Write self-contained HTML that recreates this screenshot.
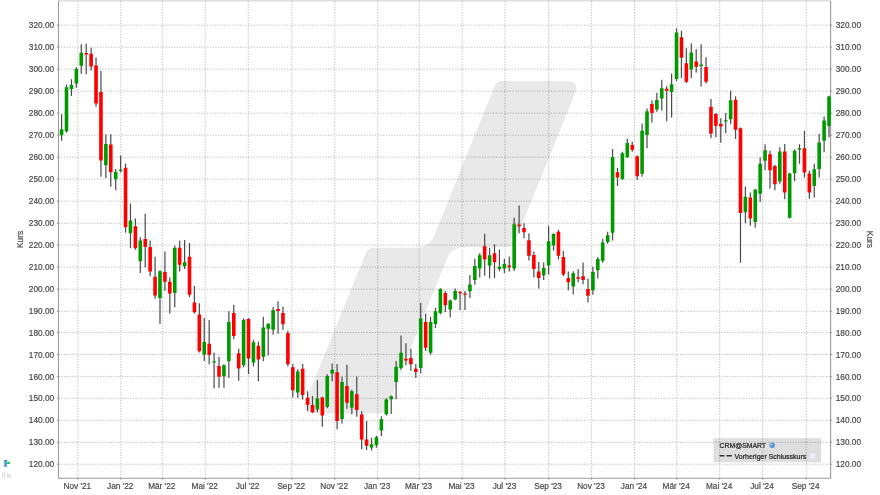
<!DOCTYPE html>
<html><head><meta charset="utf-8"><title>Chart</title>
<style>
html,body{margin:0;padding:0;background:#fff;}
body{width:880px;height:495px;overflow:hidden;}
svg{display:block;will-change:transform;}
text{font-family:"Liberation Sans",sans-serif;}
</style></head><body>
<svg width="880" height="495" viewBox="0 0 880 495">
<rect x="0" y="0" width="880" height="495" fill="#ffffff"/>
<rect x="58" y="0" width="773.1" height="1.5" fill="#dedede"/>
<g stroke="#bcbcbc" stroke-width="1" stroke-dasharray="1.25 1.5" fill="none">
<path d="M58.5 464.2H830.6"/><path d="M58.5 442.25H830.6"/><path d="M58.5 420.3H830.6"/><path d="M58.5 398.35H830.6"/><path d="M58.5 376.4H830.6"/><path d="M58.5 354.45H830.6"/><path d="M58.5 332.55H830.6"/><path d="M58.5 311.25H830.6"/><path d="M58.5 289.2H830.6"/><path d="M58.5 267.1H830.6"/><path d="M58.5 245.05H830.6"/><path d="M58.5 223.25H830.6"/><path d="M58.5 201.2H830.6"/><path d="M58.5 179.15H830.6"/><path d="M58.5 157.2H830.6"/><path d="M58.5 135.15H830.6"/><path d="M58.5 113.2H830.6"/><path d="M58.5 91.15H830.6"/><path d="M58.5 69.2H830.6"/><path d="M58.5 47.15H830.6"/><path d="M58.5 25.2H830.6"/>
<path d="M77.9 1V478.2"/><path d="M120.83 1V478.2"/><path d="M162.35 1V478.2"/><path d="M205.27 1V478.2"/><path d="M248.2 1V478.2"/><path d="M291.83 1V478.2"/><path d="M334.76 1V478.2"/><path d="M377.68 1V478.2"/><path d="M419.2 1V478.2"/><path d="M462.13 1V478.2"/><path d="M505.06 1V478.2"/><path d="M548.69 1V478.2"/><path d="M591.62 1V478.2"/><path d="M634.54 1V478.2"/><path d="M676.77 1V478.2"/><path d="M719.69 1V478.2"/><path d="M762.62 1V478.2"/><path d="M806.25 1V478.2"/>
</g>
<path d="M494.58 86A8 8 0 0 1 501.99 81L569.07 81A7.5 7.5 0 0 1 576.02 91.32L514.83 242.21A8 8 0 0 1 507.42 247.2L463.82 247.2A18 18 0 0 0 447.14 258.44L386.32 408.5A8 8 0 0 1 378.91 413.5L311.74 413.5A7.5 7.5 0 0 1 304.8 403.18L365.96 252.69A8 8 0 0 1 373.38 247.7L417.07 247.7A18 18 0 0 0 433.76 236.45Z" fill="#000" fill-opacity="0.088"/>
<rect x="713.5" y="438.1" width="107.5" height="24.2" fill="#000" fill-opacity="0.13"/>
<g stroke="#9a9a9a" stroke-width="1.1" fill="none">
<path d="M58.5 1V478.2H830.6V1"/>
</g>
<g stroke="#9a9a9a" stroke-width="1" fill="none">
<path d="M56.9 464.2h1.6M830.6 464.2h1.6"/><path d="M56.9 442.25h1.6M830.6 442.25h1.6"/><path d="M56.9 420.3h1.6M830.6 420.3h1.6"/><path d="M56.9 398.35h1.6M830.6 398.35h1.6"/><path d="M56.9 376.4h1.6M830.6 376.4h1.6"/><path d="M56.9 354.45h1.6M830.6 354.45h1.6"/><path d="M56.9 332.55h1.6M830.6 332.55h1.6"/><path d="M56.9 311.25h1.6M830.6 311.25h1.6"/><path d="M56.9 289.2h1.6M830.6 289.2h1.6"/><path d="M56.9 267.1h1.6M830.6 267.1h1.6"/><path d="M56.9 245.05h1.6M830.6 245.05h1.6"/><path d="M56.9 223.25h1.6M830.6 223.25h1.6"/><path d="M56.9 201.2h1.6M830.6 201.2h1.6"/><path d="M56.9 179.15h1.6M830.6 179.15h1.6"/><path d="M56.9 157.2h1.6M830.6 157.2h1.6"/><path d="M56.9 135.15h1.6M830.6 135.15h1.6"/><path d="M56.9 113.2h1.6M830.6 113.2h1.6"/><path d="M56.9 91.15h1.6M830.6 91.15h1.6"/><path d="M56.9 69.2h1.6M830.6 69.2h1.6"/><path d="M56.9 47.15h1.6M830.6 47.15h1.6"/><path d="M56.9 25.2h1.6M830.6 25.2h1.6"/><path d="M77.9 478.2v1.6"/><path d="M120.83 478.2v1.6"/><path d="M162.35 478.2v1.6"/><path d="M205.27 478.2v1.6"/><path d="M248.2 478.2v1.6"/><path d="M291.83 478.2v1.6"/><path d="M334.76 478.2v1.6"/><path d="M377.68 478.2v1.6"/><path d="M419.2 478.2v1.6"/><path d="M462.13 478.2v1.6"/><path d="M505.06 478.2v1.6"/><path d="M548.69 478.2v1.6"/><path d="M591.62 478.2v1.6"/><path d="M634.54 478.2v1.6"/><path d="M676.77 478.2v1.6"/><path d="M719.69 478.2v1.6"/><path d="M762.62 478.2v1.6"/><path d="M806.25 478.2v1.6"/>
</g>
<path d="M61.6 114.2V140.87M66.52 84.68V132.72M71.44 79.2V95.9M76.36 67.34V87.76M81.28 44.3V73.71M86.2 43.42V74.15M91.12 47.81V70.42M96.04 57.47V106.71M100.96 71.08V176.73M105.87 134.27V178.05M110.79 134.27V186.87M115.71 169.03V190.17M120.63 155.39V172.33M125.55 163.53V232.7M130.47 203.4V248.31M135.39 218.62V249.63M140.31 237.32V272.93M145.23 213.77V267.22M150.15 240.4V276.23M155.07 256.66V298.68M159.99 270.29V323.7M164.91 251.39V290.74M169.83 277.55V313.43M174.75 245.45V307.06M179.67 240.84V271.39M184.59 239.96V268.98M189.5 243.03V296.92M194.42 286.12V313.43M199.34 303.31V352.42M204.26 318.02V360.88M209.18 319.99V364.33M214.1 352.42V388.25M219.02 356.78V387.81M223.94 364.33V387.81M228.86 311.25V378.12M233.78 304.86V339.25M238.7 348.68V380.7M243.62 318.46V367.35M248.54 318.24V374.03M253.46 339.69V366.48M258.38 341.44V381.13M263.3 316.71V361.31M268.21 323.05V355.48M273.13 307.06V334.64M278.05 301.33V333.76M282.97 306.4V329.82M287.89 330.7V366.48M292.81 363.9V397.47M297.73 369.29V397.69M302.65 364.11V399.45M307.57 391.33V410.86M312.49 395.94V413.06M317.41 380.06V412.18M322.33 396.81V426.67M327.25 374.25V408.23M332.17 363.46V381.13M337.09 363.9V429.3M342.01 376.83V423.59M346.93 364.76V408.67M351.84 389.57V414.37M356.76 376.4V416.79M361.68 411.3V449.27M366.6 420.96V449.93M371.52 437.64V450.59M376.44 435.66V447.74M381.36 416.35V436.32M386.28 398.35V415.47M391.2 395.5V413.93M396.12 361.09V399.23M401.04 335.51V369.72M405.96 343.2V365.19M410.88 348.68V370.8M415.8 363.9V377.91M420.72 302.65V373.6M425.64 313.65V350.88M430.56 316.71V355.05M435.47 307.72V328.07M440.39 288.32V314.31M445.31 290.96V312.12M450.23 299.56V317.59M455.15 288.54V300.22M460.07 291.18V309.93M464.99 290.96V309.93M469.91 274.91V298.02M474.83 258.64V284.8M479.75 253.15V277.55M484.67 233.8V275.79M489.59 247.65V278.43M494.51 244.13V277.99M499.43 249.41V271.17M504.35 258.64V273.37M509.27 256.44V271.61M514.18 217.74V270.95M519.1 205.39V233.14M524.02 223.25V238.2M528.94 233.14V260.4M533.86 251.61V277.55M538.78 261.94V288.54M543.7 262.6V279.97M548.62 225.67V274.47M553.54 233.14V250.51M558.46 229.63V259.52M563.38 250.95V276.23M568.3 271.61V290.3M573.22 271.17V294.49M578.14 268.98V282.17M583.06 262.6V284.36M587.98 278.43V302.43M592.9 266.78V294.71M597.81 257.1V278.43M602.73 238.64V262.82M607.65 231.82V243.69M612.57 149.01V240.4M617.49 167.71V185.99M622.41 151.87V180.03M627.33 138.67V157.81M632.25 141.75V151.87M637.17 155.39V180.03M642.09 123.46V176.73M647.01 108.47V148.13M651.93 100.53V122.58M656.85 92.81V111.78M661.77 79.86V110.45M666.69 86.22V121.26M671.61 73.49V117.51M676.53 28.27V80.95M681.44 30.69V78.1M686.36 48.25V82.93M691.28 43.2V78.1M696.2 49.13V72.61M701.12 44.3V86.66M706.04 57.25V83.59M710.96 98.99V138.23M715.88 113.1V137.13M720.8 118.17V142.85M725.72 112.88V133.17M730.64 90.83V124.35M735.56 96.34V138.89M740.48 127.43V262.82M745.4 186.43V223.25M750.32 192.6V225.67M755.24 188.85V227.87M760.15 157.59V202.08M765.07 144.17V170.13M769.99 150.77V188.41M774.91 164.85V190.17M779.83 147.25V183.78M784.75 143.95V199.22M789.67 172.77V218.62M794.59 149.45V181.35M799.51 144.17V163.75M804.43 130.74V177.39M809.35 170.79V198.77M814.27 163.75V197.45M819.19 134.05V177.39M824.11 116.41V152.31M829.03 95.68V137.35" stroke="#4a4a4a" stroke-width="1.2" fill="none"/>
<path d="M59.8 129.2h3.6V135.15h-3.6ZM64.72 87.32h3.6V131.18h-3.6ZM69.64 85.12h3.6V89.07h-3.6ZM74.56 69.1h3.6V83.59h-3.6ZM79.48 52.86h3.6V65.81h-3.6ZM104.07 143.95h3.6V165.29h-3.6ZM113.91 172.11h3.6V179.37h-3.6ZM118.83 169.7h3.6V171h-3.6ZM128.67 220.38h3.6V233.14h-3.6ZM138.51 240.4h3.6V261.28h-3.6ZM158.19 271.17h3.6V298.02h-3.6ZM172.95 247.87h3.6V292.95h-3.6ZM182.78 262.16h3.6V266.34h-3.6ZM202.46 341.88h3.6V354.83h-3.6ZM212.3 361.3h3.6V362.6h-3.6ZM222.14 365.19h3.6V376.18h-3.6ZM227.06 321.96h3.6V361.31h-3.6ZM241.82 319.99h3.6V365.19h-3.6ZM251.66 342.32h3.6V362.6h-3.6ZM261.5 327.42h3.6V356.78h-3.6ZM266.41 323.92h3.6V328.73h-3.6ZM271.33 310.37h3.6V329.82h-3.6ZM295.93 371.45h3.6V392.42h-3.6ZM315.61 398.13h3.6V409.54h-3.6ZM325.45 375.97h3.6V406.69h-3.6ZM330.37 369.72h3.6V373.6h-3.6ZM340.21 381.99h3.6V418.98h-3.6ZM350.04 391.33h3.6V407.79h-3.6ZM369.72 444.23h3.6V447.52h-3.6ZM374.64 437.2h3.6V445.32h-3.6ZM379.56 419.2h3.6V430.62h-3.6ZM384.48 399.45h3.6V414.37h-3.6ZM389.4 396.37h3.6V399.23h-3.6ZM394.32 366.7h3.6V381.99h-3.6ZM399.24 352.85h3.6V367.99h-3.6ZM418.92 318.46h3.6V367.99h-3.6ZM428.76 321.96h3.6V352.85h-3.6ZM433.67 311.25h3.6V323.92h-3.6ZM438.59 288.98h3.6V313h-3.6ZM448.43 300.45h3.6V309.49h-3.6ZM453.35 290.96h3.6V299.56h-3.6ZM468.11 284.58h3.6V291.18h-3.6ZM473.03 266.12h3.6V279.97h-3.6ZM477.95 255.35h3.6V268.54h-3.6ZM487.79 255.35h3.6V265.46h-3.6ZM497.63 266.78h3.6V268.98h-3.6ZM502.55 263.92h3.6V268.54h-3.6ZM512.38 224.13h3.6V268.54h-3.6ZM541.9 268.1h3.6V275.35h-3.6ZM546.82 241.28h3.6V265.46h-3.6ZM551.74 234.02h3.6V245.45h-3.6ZM571.42 273.15h3.6V286.56h-3.6ZM591.1 272.05h3.6V290.3h-3.6ZM596.01 259.08h3.6V270.29h-3.6ZM600.93 242.38h3.6V260.84h-3.6ZM605.85 235.34h3.6V241.94h-3.6ZM610.77 156.93h3.6V232.7h-3.6ZM620.61 153.19h3.6V178.93h-3.6ZM625.53 143.07h3.6V157.37h-3.6ZM640.29 130.74h3.6V173.65h-3.6ZM645.21 111.34h3.6V134.93h-3.6ZM655.05 100.09h3.6V109.57h-3.6ZM659.97 88.2h3.6V98.55h-3.6ZM669.81 84.25h3.6V91.93h-3.6ZM674.73 32.44h3.6V78.98h-3.6ZM689.48 52.42h3.6V69.54h-3.6ZM699.32 64.61h3.6V65.91h-3.6ZM723.92 120.16h3.6V121.48h-3.6ZM728.84 100.31h3.6V119.27h-3.6ZM743.6 196.79h3.6V212.22h-3.6ZM753.44 189.73h3.6V221.93h-3.6ZM758.35 163.75h3.6V193.7h-3.6ZM763.27 150.33h3.6V160.67h-3.6ZM778.03 151.43h3.6V181.58h-3.6ZM787.87 173.43h3.6V217.74h-3.6ZM792.79 150.77h3.6V173.21h-3.6ZM797.71 148.35h3.6V149.67h-3.6ZM812.47 169.25h3.6V185.99h-3.6ZM817.39 142.41h3.6V169.03h-3.6ZM822.31 120.38h3.6V140.65h-3.6ZM827.23 96.56h3.6V126.11h-3.6Z" fill="#009a00"/>
<path d="M84.4 53.09h3.6V54.38h-3.6ZM89.32 53.73h3.6V66.47h-3.6ZM94.24 65.59h3.6V103.62h-3.6ZM99.16 91.93h3.6V160.45h-3.6ZM108.99 144.61h3.6V172.33h-3.6ZM123.75 167.71h3.6V227.21h-3.6ZM133.59 226.33h3.6V248.31h-3.6ZM143.43 239.08h3.6V246.99h-3.6ZM148.35 246.99h3.6V271.39h-3.6ZM153.27 276.67h3.6V295.59h-3.6ZM163.11 272.05h3.6V281.73h-3.6ZM168.03 281.73h3.6V293.39h-3.6ZM177.87 247.87h3.6V264.8h-3.6ZM187.7 256.66h3.6V294.71h-3.6ZM192.62 302.43h3.6V312.34h-3.6ZM197.54 314.53h3.6V351.32h-3.6ZM207.38 343.64h3.6V355.05h-3.6ZM217.22 366.05h3.6V376.83h-3.6ZM231.98 313h3.6V335.95h-3.6ZM236.9 353.29h3.6V368.43h-3.6ZM246.74 319.12h3.6V358.5h-3.6ZM256.58 345.83h3.6V359.58h-3.6ZM276.25 309.04h3.6V311.03h-3.6ZM281.17 313h3.6V324.36h-3.6ZM286.09 332.88h3.6V364.33h-3.6ZM291.01 367.35h3.6V390.23h-3.6ZM300.85 368.64h3.6V395.06h-3.6ZM305.77 397.69h3.6V404.72h-3.6ZM310.69 404.93h3.6V412.18h-3.6ZM320.53 397.47h3.6V415.47h-3.6ZM335.29 372.31h3.6V420.96h-3.6ZM345.13 386.08h3.6V402.74h-3.6ZM354.96 394.18h3.6V409.98h-3.6ZM359.88 414.59h3.6V439.4h-3.6ZM364.8 439.62h3.6V445.76h-3.6ZM404.16 358.72h3.6V360.44h-3.6ZM409.08 358.07h3.6V364.33h-3.6ZM414 368.64h3.6V371.88h-3.6ZM423.84 321.96h3.6V347.81h-3.6ZM443.51 292.95h3.6V305.3h-3.6ZM458.27 291.85h3.6V293.17h-3.6ZM463.19 293.39h3.6V294.71h-3.6ZM482.87 246.33h3.6V259.52h-3.6ZM492.71 253.15h3.6V262.16h-3.6ZM507.47 265.46h3.6V267.22h-3.6ZM517.3 224.57h3.6V226.33h-3.6ZM522.22 228.09h3.6V232.26h-3.6ZM527.14 240.18h3.6V255.79h-3.6ZM532.06 254.91h3.6V268.98h-3.6ZM536.98 271.61h3.6V277.99h-3.6ZM556.66 231.82h3.6V255.79h-3.6ZM561.58 257.1h3.6V274.47h-3.6ZM566.5 277.99h3.6V282.17h-3.6ZM576.34 277.33h3.6V278.65h-3.6ZM581.26 276.23h3.6V279.97h-3.6ZM586.18 288.98h3.6V295.81h-3.6ZM615.69 172.33h3.6V177.61h-3.6ZM630.45 145.05h3.6V149.67h-3.6ZM635.37 156.27h3.6V176.29h-3.6ZM650.13 104.06h3.6V112.88h-3.6ZM664.89 88.64h3.6V90.83h-3.6ZM679.64 37.27h3.6V57.69h-3.6ZM684.56 63.17h3.6V81.83h-3.6ZM694.4 61.42h3.6V66.69h-3.6ZM704.24 66.91h3.6V81.83h-3.6ZM709.16 106.71h3.6V133.83h-3.6ZM714.08 113.98h3.6V125.67h-3.6ZM719 124.12h3.6V126.55h-3.6ZM733.76 99.65h3.6V129.64h-3.6ZM738.68 128.31h3.6V212.89h-3.6ZM748.52 197.45h3.6V218.62h-3.6ZM768.19 154.29h3.6V170.13h-3.6ZM773.11 165.95h3.6V184.22h-3.6ZM782.95 151.43h3.6V192.38h-3.6ZM802.63 148.35h3.6V172.55h-3.6ZM807.55 173.43h3.6V192.38h-3.6Z" fill="#ff0000"/>
<text x="719.6" y="447.6" font-size="7" fill="#222" stroke="#222" stroke-width="0.22" textLength="46.4" lengthAdjust="spacingAndGlyphs">CRM@SMART</text>
<circle cx="772.1" cy="445.3" r="2.7" fill="#4f8fd6"/><circle cx="771.4" cy="444.6" r="1.1" fill="#c9dcf2"/>
<path d="M719.6 455.7h4.8M726.4 455.7h5.5" stroke="#333" stroke-width="1.5"/>
<text x="734.6" y="458.5" font-size="7" fill="#222" stroke="#222" stroke-width="0.22" textLength="71.6" lengthAdjust="spacingAndGlyphs">Vorheriger Schlusskurs</text>
<rect x="810.3" y="453.8" width="4.8" height="4.8" rx="1" fill="#ececfa" stroke="#f4f4fc" stroke-width="0.6"/>
<g font-size="8.9" fill="#444444" stroke="#444444" stroke-width="0.18">
<text x="54.1" y="467.3" text-anchor="end" textLength="25.3" lengthAdjust="spacingAndGlyphs">120.00</text><text x="835.7" y="467.3" textLength="25.3" lengthAdjust="spacingAndGlyphs">120.00</text>
<text x="54.1" y="445.35" text-anchor="end" textLength="25.3" lengthAdjust="spacingAndGlyphs">130.00</text><text x="835.7" y="445.35" textLength="25.3" lengthAdjust="spacingAndGlyphs">130.00</text>
<text x="54.1" y="423.4" text-anchor="end" textLength="25.3" lengthAdjust="spacingAndGlyphs">140.00</text><text x="835.7" y="423.4" textLength="25.3" lengthAdjust="spacingAndGlyphs">140.00</text>
<text x="54.1" y="401.45" text-anchor="end" textLength="25.3" lengthAdjust="spacingAndGlyphs">150.00</text><text x="835.7" y="401.45" textLength="25.3" lengthAdjust="spacingAndGlyphs">150.00</text>
<text x="54.1" y="379.5" text-anchor="end" textLength="25.3" lengthAdjust="spacingAndGlyphs">160.00</text><text x="835.7" y="379.5" textLength="25.3" lengthAdjust="spacingAndGlyphs">160.00</text>
<text x="54.1" y="357.55" text-anchor="end" textLength="25.3" lengthAdjust="spacingAndGlyphs">170.00</text><text x="835.7" y="357.55" textLength="25.3" lengthAdjust="spacingAndGlyphs">170.00</text>
<text x="54.1" y="335.6" text-anchor="end" textLength="25.3" lengthAdjust="spacingAndGlyphs">180.00</text><text x="835.7" y="335.6" textLength="25.3" lengthAdjust="spacingAndGlyphs">180.00</text>
<text x="54.1" y="313.65" text-anchor="end" textLength="25.3" lengthAdjust="spacingAndGlyphs">190.00</text><text x="835.7" y="313.65" textLength="25.3" lengthAdjust="spacingAndGlyphs">190.00</text>
<text x="54.1" y="291.7" text-anchor="end" textLength="25.3" lengthAdjust="spacingAndGlyphs">200.00</text><text x="835.7" y="291.7" textLength="25.3" lengthAdjust="spacingAndGlyphs">200.00</text>
<text x="54.1" y="269.75" text-anchor="end" textLength="25.3" lengthAdjust="spacingAndGlyphs">210.00</text><text x="835.7" y="269.75" textLength="25.3" lengthAdjust="spacingAndGlyphs">210.00</text>
<text x="54.1" y="247.8" text-anchor="end" textLength="25.3" lengthAdjust="spacingAndGlyphs">220.00</text><text x="835.7" y="247.8" textLength="25.3" lengthAdjust="spacingAndGlyphs">220.00</text>
<text x="54.1" y="225.85" text-anchor="end" textLength="25.3" lengthAdjust="spacingAndGlyphs">230.00</text><text x="835.7" y="225.85" textLength="25.3" lengthAdjust="spacingAndGlyphs">230.00</text>
<text x="54.1" y="203.9" text-anchor="end" textLength="25.3" lengthAdjust="spacingAndGlyphs">240.00</text><text x="835.7" y="203.9" textLength="25.3" lengthAdjust="spacingAndGlyphs">240.00</text>
<text x="54.1" y="181.95" text-anchor="end" textLength="25.3" lengthAdjust="spacingAndGlyphs">250.00</text><text x="835.7" y="181.95" textLength="25.3" lengthAdjust="spacingAndGlyphs">250.00</text>
<text x="54.1" y="160" text-anchor="end" textLength="25.3" lengthAdjust="spacingAndGlyphs">260.00</text><text x="835.7" y="160" textLength="25.3" lengthAdjust="spacingAndGlyphs">260.00</text>
<text x="54.1" y="138.05" text-anchor="end" textLength="25.3" lengthAdjust="spacingAndGlyphs">270.00</text><text x="835.7" y="138.05" textLength="25.3" lengthAdjust="spacingAndGlyphs">270.00</text>
<text x="54.1" y="116.1" text-anchor="end" textLength="25.3" lengthAdjust="spacingAndGlyphs">280.00</text><text x="835.7" y="116.1" textLength="25.3" lengthAdjust="spacingAndGlyphs">280.00</text>
<text x="54.1" y="94.15" text-anchor="end" textLength="25.3" lengthAdjust="spacingAndGlyphs">290.00</text><text x="835.7" y="94.15" textLength="25.3" lengthAdjust="spacingAndGlyphs">290.00</text>
<text x="54.1" y="72.2" text-anchor="end" textLength="25.3" lengthAdjust="spacingAndGlyphs">300.00</text><text x="835.7" y="72.2" textLength="25.3" lengthAdjust="spacingAndGlyphs">300.00</text>
<text x="54.1" y="50.25" text-anchor="end" textLength="25.3" lengthAdjust="spacingAndGlyphs">310.00</text><text x="835.7" y="50.25" textLength="25.3" lengthAdjust="spacingAndGlyphs">310.00</text>
<text x="54.1" y="28.3" text-anchor="end" textLength="25.3" lengthAdjust="spacingAndGlyphs">320.00</text><text x="835.7" y="28.3" textLength="25.3" lengthAdjust="spacingAndGlyphs">320.00</text>
<text x="63.46" y="489.2" textLength="27.68" lengthAdjust="spacingAndGlyphs">Nov '21</text><text x="107.07" y="489.2" textLength="26.31" lengthAdjust="spacingAndGlyphs">Jan '22</text><text x="148.14" y="489.2" textLength="27.22" lengthAdjust="spacingAndGlyphs">Mär '22</text><text x="191.52" y="489.2" textLength="26.31" lengthAdjust="spacingAndGlyphs">Mai '22</text><text x="235.82" y="489.2" textLength="23.56" lengthAdjust="spacingAndGlyphs">Jul '22</text><text x="277.39" y="489.2" textLength="27.69" lengthAdjust="spacingAndGlyphs">Sep '22</text><text x="320.32" y="489.2" textLength="27.68" lengthAdjust="spacingAndGlyphs">Nov '22</text><text x="363.93" y="489.2" textLength="26.31" lengthAdjust="spacingAndGlyphs">Jan '23</text><text x="404.99" y="489.2" textLength="27.22" lengthAdjust="spacingAndGlyphs">Mär '23</text><text x="448.38" y="489.2" textLength="26.31" lengthAdjust="spacingAndGlyphs">Mai '23</text><text x="492.68" y="489.2" textLength="23.56" lengthAdjust="spacingAndGlyphs">Jul '23</text><text x="534.24" y="489.2" textLength="27.69" lengthAdjust="spacingAndGlyphs">Sep '23</text><text x="577.17" y="489.2" textLength="27.68" lengthAdjust="spacingAndGlyphs">Nov '23</text><text x="620.79" y="489.2" textLength="26.31" lengthAdjust="spacingAndGlyphs">Jan '24</text><text x="662.56" y="489.2" textLength="27.22" lengthAdjust="spacingAndGlyphs">Mär '24</text><text x="705.94" y="489.2" textLength="26.31" lengthAdjust="spacingAndGlyphs">Mai '24</text><text x="750.24" y="489.2" textLength="23.56" lengthAdjust="spacingAndGlyphs">Jul '24</text><text x="791.8" y="489.2" textLength="27.69" lengthAdjust="spacingAndGlyphs">Sep '24</text>
<text transform="translate(23.1 248) rotate(-90)" textLength="17.2" lengthAdjust="spacingAndGlyphs">Kurs</text>
<text transform="translate(866.8 230.8) rotate(90)" textLength="17.2" lengthAdjust="spacingAndGlyphs">Kurs</text>
</g>
<path d="M3.6 459.9h3.9l-0.9 1.6v3.7l0.9 1.6h-3.9l0.8-1.6v-3.7z" fill="#3d8edb"/><path d="M6.3 461.8h3.3l0.7 1.1l-0.7 1.1h-3.3z" fill="#35c27a"/>
<g fill="#d4d4d4"><rect x="2" y="472.2" width="0.9" height="5.6"/><rect x="4" y="471.6" width="0.9" height="6.2"/><rect x="7.2" y="472.8" width="1" height="5"/><rect x="8.6" y="474" width="1" height="3.8"/><rect x="9.9" y="475" width="1" height="2.8"/></g>
</svg>
</body></html>
